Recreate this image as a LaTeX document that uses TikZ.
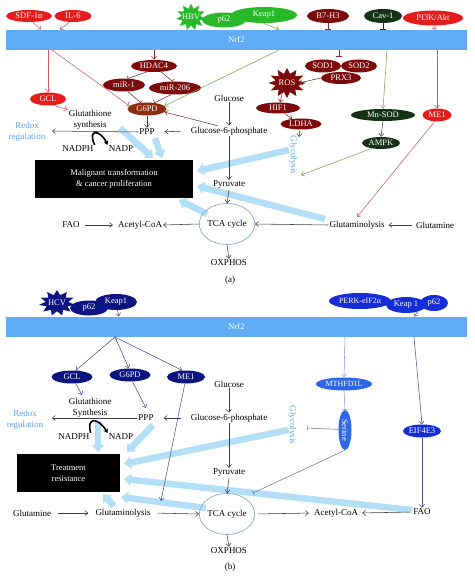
\documentclass[tikz,border=0pt]{standalone}
\usepackage{fontspec}
\setmainfont{Liberation Serif}
\usetikzlibrary{shapes.geometric,arrows.meta}
\definecolor{nrf}{RGB}{95,172,245}
\definecolor{rd}{RGB}{228,28,28}
\definecolor{mar}{RGB}{125,10,10}
\definecolor{brn}{RGB}{140,45,15}
\definecolor{grn}{RGB}{40,185,40}
\definecolor{dgrn}{RGB}{22,50,22}
\definecolor{bandc}{RGB}{178,222,246}
\definecolor{lbtxt}{RGB}{95,160,220}
\definecolor{nav}{RGB}{12,20,130}
\definecolor{mblue}{RGB}{20,45,215}
\definecolor{sblue}{RGB}{45,105,230}
\definecolor{lred}{RGB}{205,90,95}
\definecolor{dred}{RGB}{130,45,45}
\definecolor{lgrn}{RGB}{120,165,85}
\definecolor{lnav}{RGB}{80,80,150}
\definecolor{lpur}{RGB}{140,150,210}
\definecolor{tcac}{RGB}{125,155,200}
\definecolor{gry}{RGB}{60,60,60}
\pgfdeclarelayer{bg}
\pgfsetlayers{bg,main}
\tikzset{
  el/.style={ellipse, inner sep=0pt, text=white, font=\fontsize{8.5}{9}\selectfont},
  txt/.style={font=\fontsize{9}{10.5}\selectfont, inner sep=1pt, align=center},
  arr/.style={-{Straight Barb[length=3pt,width=5pt]}, line width=0.55pt},
  tbar/.style={-{Bar[width=5.5pt]}, line width=0.55pt},
  band/.style={line width=6.5pt, draw=bandc, -{Triangle[length=7pt,width=12pt]}},
  bar/.style={rectangle, fill=nrf, minimum width=461pt, minimum height=20pt, inner sep=0pt, text=white, font=\fontsize{8.5}{9}\selectfont},
  blk/.style={rectangle, fill=black, text=white, inner sep=0pt, align=center, font=\fontsize{8.5}{11}\selectfont},
}
\begin{document}
\begin{tikzpicture}[x=1pt,y=-1pt]
\useasboundingbox (0,0) rectangle (474,585);
% ================= panel (a) =================
\node[el, fill=rd, minimum width=46pt, minimum height=12pt] (sdf) at (29,16) {SDF-1α};
\node[el, fill=rd, minimum width=37pt, minimum height=12pt] (il6) at (73,16) {IL-6};
\node[el, fill=grn, minimum width=66pt, minimum height=16pt] (keap1a) at (264,15) {Keap1};
\node[el, fill=grn, minimum width=44pt, minimum height=15pt] (p62a) at (224,20) {p62};
\node[star, star points=11, star point ratio=1.6, fill=grn, minimum size=27pt, inner sep=0pt, xscale=1.1] (hbvS) at (191,17) {};
\node[el] (hbv) at (191,17) {HBV};
\node[el, fill=mar, minimum width=42pt, minimum height=14pt] (b7) at (328,16) {B7-H3};
\node[el, fill=dgrn, minimum width=38pt, minimum height=14pt] (cav) at (383,16) {Cav-1};
\node[el, fill=rd, minimum width=60pt, minimum height=15pt] (pi3k) at (433,18) {PI3K/Akt};
\node[bar] (nrfa) at (236.5,40) {Nrf2};
\node[el, fill=rd, minimum width=36pt, minimum height=13pt] (gcla) at (48,99) {GCL};
\node[el, fill=mar, minimum width=46pt, minimum height=12pt] (hdac) at (154,66) {HDAC4};
\node[el, fill=mar, minimum width=42pt, minimum height=13pt] (mir1) at (124,85) {miR-1};
\node[el, fill=mar, minimum width=52pt, minimum height=13pt] (mir206) at (175,88) {miR-206};
\node[el, fill=brn, minimum width=39pt, minimum height=13pt] (g6pda) at (147,109) {G6PD};
\node[el, fill=mar, minimum width=36pt, minimum height=13pt] (sod1) at (323,66) {SOD1};
\node[el, fill=mar, minimum width=36pt, minimum height=13pt] (sod2) at (359,66) {SOD2};
\node[el, fill=mar, minimum width=40pt, minimum height=12pt] (prx3) at (341,78) {PRX3};
\node[star, star points=12, star point ratio=1.6, fill=mar, minimum size=30pt, inner sep=0pt, xscale=1.25] (rosS) at (287,83) {};
\node[el] (ros) at (287,83) {ROS};
\node[el, fill=mar, minimum width=44pt, minimum height=11pt] (hif1) at (278,108) {HIF1};
\node[el, fill=mar, minimum width=41pt, minimum height=11pt] (ldha) at (301,124) {LDHA};
\node[el, fill=dgrn, minimum width=64pt, minimum height=12pt] (mnsod) at (383,115) {Mn-SOD};
\node[el, fill=rd, minimum width=29pt, minimum height=13pt] (me1a) at (437,115) {ME1};
\node[el, fill=dgrn, minimum width=38pt, minimum height=12pt] (ampk) at (381,143) {AMPK};
\node[txt, text=lbtxt, rotate=-90] (glyca) at (293,155) {Glycolysis};
\node[txt] (gluca) at (229,98) {Glucose};
\node[txt] (g6pa) at (229,131) {Glucose-6-phosphate};
\node[txt] (pppa) at (147,132) {PPP};
\node[txt] (gsa) at (90,120) {Glutathione\\synthesis};
\node[txt, text=lbtxt, font=\fontsize{9}{11}\selectfont] (redoxa) at (27,132) {Redox\\regulation};
\node[txt] (nadpha) at (78,149) {NADPH};
\node[txt] (nadpa) at (121,149) {NADP};
\node[blk, minimum width=158pt, minimum height=37pt] (boxa) at (114,179) {Malignant transformation\\\& cancer proliferation};
\node[txt] (pyra) at (229,185) {Pyruvate};
\node[ellipse, draw=tcac, line width=0.6pt, minimum width=46pt, minimum height=41pt, inner sep=0pt, font=\fontsize{9}{10}\selectfont] (tcaa) at (227,224) {TCA cycle};
\node[txt] (acoaa) at (140,225) {Acetyl-CoA};
\node[txt] (faoa) at (71,225) {FAO};
\node[txt] (glsa) at (357,225) {Glutaminolysis};
\node[txt] (glna) at (435,225) {Glutamine};
\node[txt] (oxa) at (229,263) {OXPHOS};
\node[txt] (laba) at (230,280) {(a)};
% coordinates
\coordinate (sdfT) at (41,29.5);
\coordinate (il6T) at (60,29.5);
\coordinate (keapT) at (279,29.5);
\coordinate (b7T) at (328,29.5);
\coordinate (cavT) at (383,29.5);
\coordinate (piT) at (436,29.5);
\coordinate (nA1) at (48,50);
\coordinate (nA2) at (52,50);
\coordinate (nA3) at (154,50);
\coordinate (nA4) at (279,50);
\coordinate (nA5) at (339,50);
\coordinate (nA6) at (387,50);
\coordinate (nA7) at (437,50);
\coordinate (sodB) at (339,57);
\coordinate (redT) at (52,131);
\coordinate (glyTop) at (299,137);
\coordinate (glyBot) at (301,175);
\coordinate (glsTop) at (357,217);
% connectors (a)
\draw[arr,lred] (sdf.-60) -- (sdfT);
\draw[arr,lred] (il6.-120) -- (il6T);
\draw[arr,lgrn] (keap1a.-95) -- (keapT);
\draw[tbar,dred] (b7.south) -- (b7T);
\draw[tbar,dgrn] (cav.south) -- (cavT);
\draw[arr,lred] (pi3k.south) -- (piT);
\draw[arr,lred] (nA1) -- (gcla.north);
\draw[arr,lred] (nA2) -- (g6pda.170);
\draw[arr,dred] (nA3) -- (hdac.north);
\draw[tbar,dred] (hdac.220) -- (mir1.60);
\draw[tbar,dred] (hdac.-40) -- (mir206.110);
\draw[tbar,dred] (mir1.-60) -- (g6pda.135);
\draw[tbar,dred] (mir206.-120) -- (g6pda.40);
\draw[arr,lgrn] (nA4) -- (g6pda.10);
\draw[arr,dred] (g6pa.155) -- (g6pda.-10);
\draw[arr,gry] (gluca.south) -- (g6pa.north);
\draw[arr,gry, shorten <=9pt, shorten >=9pt] (g6pa.west) -- (pppa.east);
\draw[arr,gry] (g6pda.south) -- (pppa.north);
\draw[arr,gry] (pppa.west) -- (redT);
\draw[arr,lred] (gcla.-50) -- (gsa.north west);
\draw[line width=1.6pt, -{Stealth[length=4pt,width=5pt]}] (nadpha.north east) .. controls (87,129) and (100,129) .. (nadpa.north west);
\draw[tbar,dred] (nA5) -- (sodB);
\draw[arr,dred] (prx3.west) -- (ros.east);
\draw[arr,dred] (rosS.-110) -- (hif1.70);
\draw[arr,dred] (hif1.-40) -- (ldha.150);
\draw[arr,dred] (ldha.-100) -- (glyTop);
\draw[arr,lgrn] (nA6) -- (mnsod.north);
\draw[arr,lred] (nA7) -- (me1a.north);
\draw[arr,gry] (mnsod.south) -- (ampk.north);
\draw[arr,lgrn] (ampk.-150) -- (glyBot);
\draw[arr,lred] (me1a.-110) -- (glsTop);
\draw[arr,gry] (g6pa.south) -- (pyra.north);
\draw[arr,gry] (pyra.south) -- (tcaa.north);
\draw[arr,gry] (tcaa.south) -- (oxa.north);
\draw[arr,gry] (tcaa.west) -- (acoaa.east);
\draw[arr,gry, shorten <=4pt] (faoa.east) -- ++(32,0) coordinate (faoE);
\draw[arr,gry] (glsa.west) -- (tcaa.east);
\draw[arr,gry, shorten <=3pt, shorten >=3pt] (glna.west) -- (glsa.east);
\begin{pgfonlayer}{bg}
\coordinate (bA1s) at (120,128); \coordinate (bA1e) at (153,158);
\coordinate (bA2s) at (155,138); \coordinate (bA2e) at (162,158);
\coordinate (bA3s) at (289,150); \coordinate (bA3e) at (197,171);
\coordinate (bA4s) at (325,219); \coordinate (bA4e) at (197,186);
\coordinate (bA5s) at (207,214); \coordinate (bA5e) at (179,200);
\draw[band] (bA1s) -- (bA1e);
\draw[band] (bA2s) -- (bA2e);
\draw[band] (bA3s) -- (bA3e);
\draw[band] (bA4s) -- (bA4e);
\draw[band] (bA5s) -- (bA5e);
\end{pgfonlayer}
% ================= panel (b) =================
\node[el, fill=nav, minimum width=38pt, minimum height=15pt] (p62b) at (89,308) {p62};
\node[el, fill=nav, minimum width=42pt, minimum height=16pt] (keap1b) at (116,302) {Keap1};
\node[star, star points=11, star point ratio=1.6, fill=nav, minimum size=26pt, inner sep=0pt, xscale=1.4] (hcvS) at (57,303) {};
\node[el] (hcv) at (57,303) {HCV};
\node[el, fill=mblue, minimum width=62pt, minimum height=16pt, font=\fontsize{8}{9}\selectfont] (perk) at (360,301) {PERK-eIF2α};
\node[el, fill=mblue, minimum width=28pt, minimum height=16pt] (p62c) at (434,303) {p62};
\node[el, fill=mblue, minimum width=40pt, minimum height=16pt] (keap1c) at (406,305) {Keap 1};
\node[bar] (nrfb) at (236.5,327) {Nrf2};
\node[el, fill=nav, minimum width=41pt, minimum height=13pt] (gclb) at (72,377) {GCL};
\node[el, fill=nav, minimum width=41pt, minimum height=13pt] (g6pdb) at (130,375) {G6PD};
\node[el, fill=nav, minimum width=38pt, minimum height=13pt] (me1b) at (186,377) {ME1};
\node[el, fill=sblue, minimum width=56pt, minimum height=13pt, font=\fontsize{8}{9}\selectfont] (mthf) at (344,384) {MTHFD1L};
\node[el, fill=sblue, minimum width=40pt, minimum height=13pt, rotate=-90] (ser) at (345,430) {Serine};
\node[el, fill=mblue, minimum width=38pt, minimum height=13pt] (eif) at (422,431) {EIF4E3};
\node[txt, text=lbtxt, rotate=-90] (glycb) at (292,425) {Glycolysis};
\node[txt] (glucb) at (229,384) {Glucose};
\node[txt] (g6pb) at (229,418) {Glucose-6-phosphate};
\node[txt] (pppb) at (146,418) {PPP};
\node[txt] (gsb) at (90,408) {Glutathione\\Synthesis};
\node[txt, text=lbtxt, font=\fontsize{9}{11}\selectfont] (redoxb) at (25,420) {Redox\\regulation};
\node[txt] (nadphb) at (74,437) {NADPH};
\node[txt] (nadpb) at (121,437) {NADP};
\node[blk, minimum width=103pt, minimum height=38pt] (boxb) at (68.5,473) {Treatment\\resistance};
\node[txt] (pyrb) at (229,473) {Pyruvate};
\node[ellipse, draw=tcac, line width=0.6pt, minimum width=46pt, minimum height=41pt, inner sep=0pt, font=\fontsize{9}{10}\selectfont] (tcab) at (227,514) {TCA cycle};
\node[txt] (oxb) at (229,551) {OXPHOS};
\node[txt] (labb) at (230,567) {(b)};
\node[txt] (glnb) at (32,513) {Glutamine};
\node[txt] (glsb) at (123,513) {Glutaminolysis};
\node[txt] (acoab) at (336,513) {Acetyl-CoA};
\node[txt] (faob) at (422,512) {FAO};
% coordinates (b)
\coordinate (kbT) at (119,316.5);
\coordinate (kcT) at (414,316.5);
\coordinate (nB1) at (115,337);
\coordinate (nB2) at (345,337);
\coordinate (nB3) at (414,337);
\coordinate (redTb) at (52,418);
\coordinate (gsbT) at (82,395);
\coordinate (pppT) at (146,408);
\coordinate (glybT) at (307,428);
\coordinate (tcabT) at (253,493);
\coordinate (glsbT) at (161,501);
% connectors (b)
\draw[arr,lnav] (keap1b.-80) -- (kbT);
\draw[arr,lnav] (keap1c.-30) -- (kcT);
\draw[arr,lnav] (nB1) -- (gclb.60);
\draw[arr,lnav] (nB1) -- (g6pdb.100);
\draw[arr,lnav] (nB1) -- (me1b.120);
\draw[arr,lnav] (gclb.-60) -- (gsbT);
\draw[arr,lnav] (g6pdb.-70) -- (pppT);
\draw[arr,lnav] (me1b.-100) -- (glsbT);
\draw[arr,lpur] (nB2) -- (mthf.north);
\draw[tbar,lpur] (mthf.south) -- (ser.west);
\draw[tbar,lnav!80] (ser.north) -- (glybT);
\draw[tbar,lnav!80] (ser.east) -- (tcabT);
\draw[arr,lnav] (nB3) -- (eif.north);
\draw[arr,lnav] (eif.south) -- (faob.north);
\draw[arr,gry, shorten <=3pt, shorten >=3pt] (faob.west) -- (acoab.east);
\draw[arr,gry, shorten <=3pt, shorten >=4pt] (tcab.east) -- (acoab.west);
\draw[arr,gry, shorten <=6pt] (glsb.east) -- (tcab.west);
\draw[arr,gry, shorten <=6pt, shorten >=6pt] (glnb.east) -- (glsb.west);
\draw[arr,gry] (glucb.south) -- (g6pb.north);
\draw[arr,gry] (g6pb.south) -- (pyrb.north);
\draw[arr,gry] (pyrb.south) -- (tcab.north);
\draw[arr,gry] (tcab.south) -- (oxb.north);
\draw[arr,gry, shorten <=9pt, shorten >=9pt] (g6pb.west) -- (pppb.east);
\draw[arr,gry] (pppb.west) -- (redTb);
\draw[line width=1.6pt, -{Stealth[length=4pt,width=5pt]}] (nadphb.north east) .. controls (86,417) and (98,417) .. (nadpb.north west);
\begin{pgfonlayer}{bg}
\coordinate (bB1s) at (98,421); \coordinate (bB1e) at (98,452);
\coordinate (bB2s) at (153,425); \coordinate (bB2e) at (127,452);
\coordinate (bB3s) at (288,430); \coordinate (bB3e) at (124,464);
\coordinate (bB4s) at (412,510); \coordinate (bB4e) at (124,479);
\coordinate (bB5s) at (206,508); \coordinate (bB5e) at (121,497);
\coordinate (bB6s) at (114,506); \coordinate (bB6e) at (103,494);
\draw[band] (bB1s) -- (bB1e);
\draw[band] (bB2s) -- (bB2e);
\draw[band] (bB3s) -- (bB3e);
\draw[band] (bB4s) -- (bB4e);
\draw[band] (bB5s) -- (bB5e);
\draw[band] (bB6s) -- (bB6e);
\end{pgfonlayer}
\end{tikzpicture}
\end{document}
